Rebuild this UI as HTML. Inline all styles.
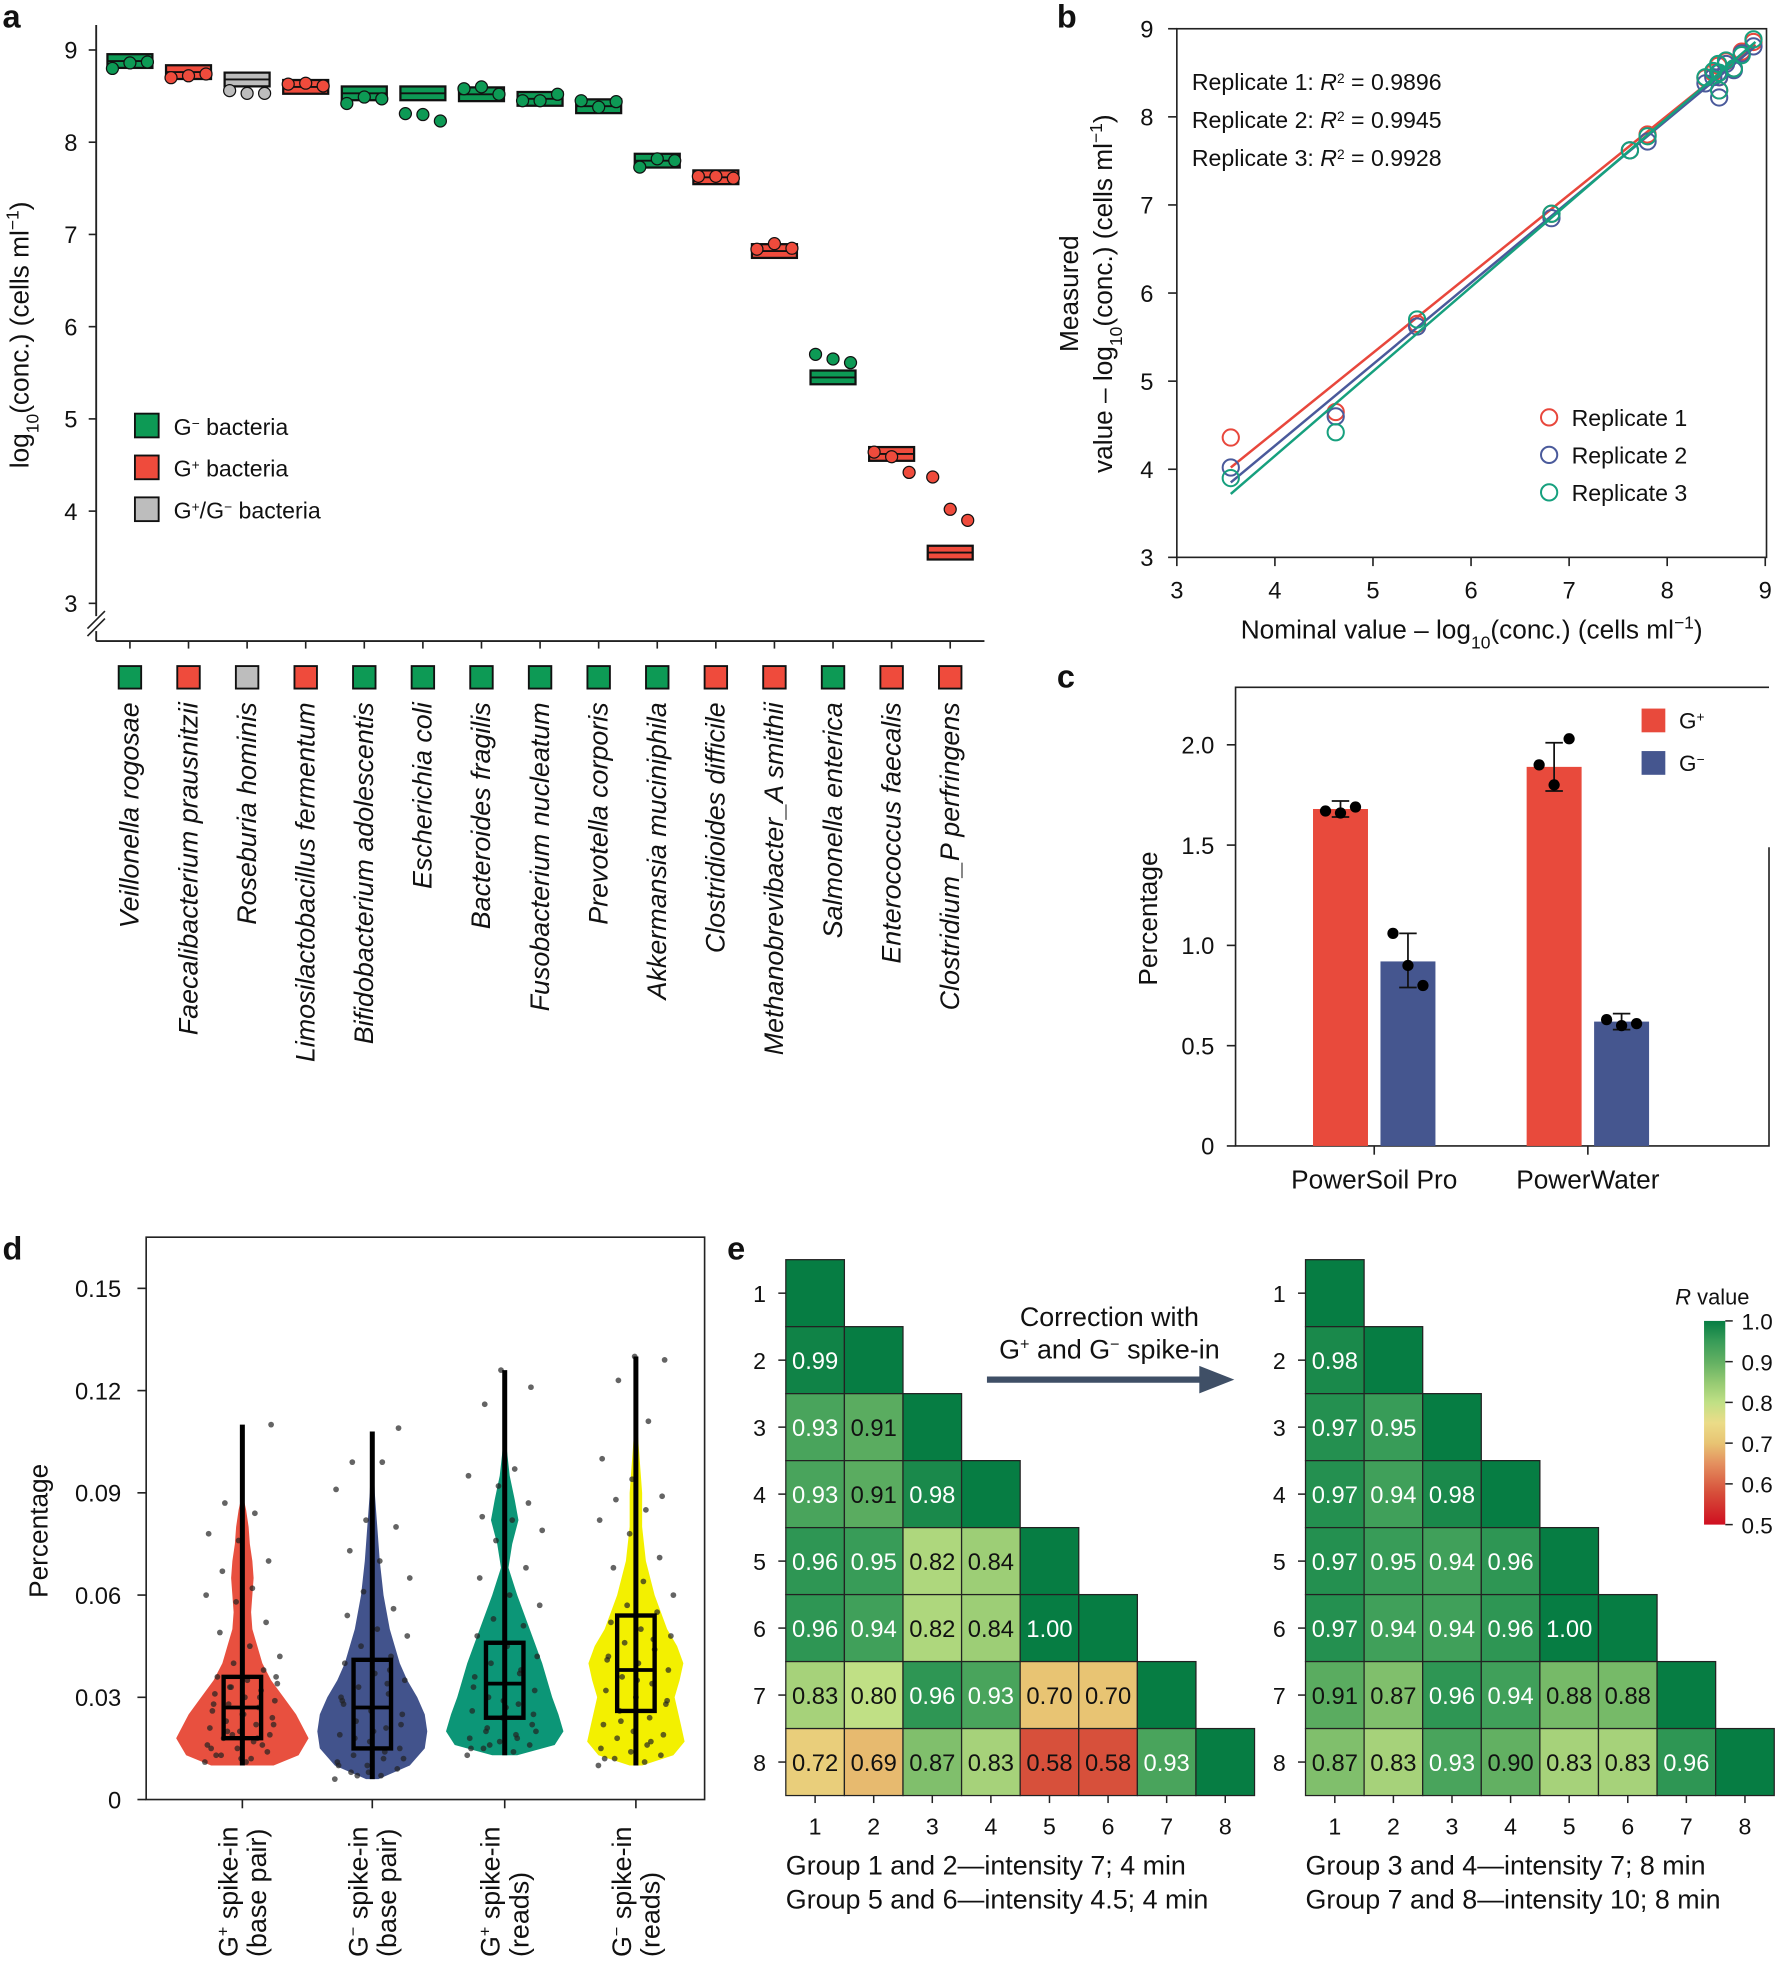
<!DOCTYPE html>
<html><head><meta charset="utf-8"><style>
html,body{margin:0;padding:0;background:#fff}
svg{display:block;font-family:"Liberation Sans",sans-serif}
</style></head><body>
<svg id="fig" width="1779" height="1962" viewBox="0 0 1424 1570" preserveAspectRatio="none" xmlns="http://www.w3.org/2000/svg"></svg>
<script>
// ---------- Panel a data ----------
const aNames=["Veillonella rogosae","Faecalibacterium prausnitzii","Roseburia hominis","Limosilactobacillus fermentum","Bifidobacterium adolescentis","Escherichia coli","Bacteroides fragilis","Fusobacterium nucleatum","Prevotella corporis","Akkermansia muciniphila","Clostridioides difficile","Methanobrevibacter_A smithii","Salmonella enterica","Enterococcus faecalis","Clostridium_P perfringens"];
const aTypes=["neg","pos","mix","pos","neg","neg","neg","neg","neg","neg","pos","pos","neg","pos","pos"];
const aNominal=[8.88,8.76,8.68,8.6,8.53,8.53,8.52,8.47,8.39,7.8,7.62,6.82,5.45,4.62,3.55];
const aRep1=[8.80,8.70,8.56,8.63,8.42,8.31,8.58,8.45,8.45,7.73,7.63,6.84,5.70,4.64,4.37];
const aRep2=[8.86,8.72,8.53,8.64,8.49,8.30,8.60,8.45,8.38,7.82,7.63,6.90,5.65,4.59,4.02];
const aRep3=[8.87,8.74,8.53,8.61,8.47,8.23,8.52,8.52,8.44,7.80,7.61,6.85,5.61,4.42,3.90];
const aTicks=[3,4,5,6,7,8,9];
// ---------- Panel b data ----------
const bNominal=[3.55,4.62,5.45,6.82,7.62,7.8,8.39,8.47,8.52,8.53,8.53,8.6,8.68,8.76,8.88];
const bR1=[4.36,4.65,5.65,6.90,7.62,7.80,8.44,8.50,8.58,8.30,8.45,8.63,8.55,8.74,8.85];
const bR2=[4.02,4.60,5.62,6.85,7.62,7.72,8.38,8.45,8.50,8.22,8.45,8.60,8.53,8.72,8.80];
const bR3=[3.90,4.42,5.70,6.90,7.62,7.78,8.45,8.52,8.60,8.30,8.50,8.64,8.55,8.70,8.88];
const bFitStart=[4.02,3.85,3.72];
const bFitEnd=[8.82,8.80,8.85];
const bR2text=["0.9896","0.9945","0.9928"];
// ---------- Panel c data ----------
const cKits=["PowerSoil Pro","PowerWater"];
const cPos=[1.68,1.89];
const cNeg=[0.92,0.62];
const cPosLo=[1.64,1.77],cPosHi=[1.72,2.01];
const cNegLo=[0.79,0.58],cNegHi=[1.06,0.66];
const cPosPts=[[1.67,1.66,1.69],[1.9,1.8,2.03]];
const cNegPts=[[1.06,0.9,0.8],[0.63,0.6,0.61]];
const cTicks=[0,0.5,1.0,1.5,2.0];
// ---------- Panel d data ----------
const dCats=[["G","+","spike-in","(base pair)"],["G","−","spike-in","(base pair)"],["G","+","spike-in","(reads)"],["G","−","spike-in","(reads)"]];
const dQ1=[0.018,0.015,0.024,0.026];
const dMed=[0.027,0.027,0.034,0.038];
const dQ3=[0.036,0.041,0.046,0.054];
const dMin=[0.010,0.006,0.013,0.010];
const dMax=[0.110,0.108,0.126,0.130];
const dLevels=[[0.010,0.013,0.018,0.025,0.030,0.035,0.040,0.045,0.050,0.055,0.060,0.065,0.070,0.075,0.080,0.085,0.090],
 [0.006,0.010,0.015,0.020,0.025,0.030,0.035,0.040,0.050,0.060,0.070,0.080,0.090,0.100,0.108],
 [0.013,0.016,0.020,0.025,0.030,0.040,0.050,0.060,0.068,0.075,0.082,0.088,0.095,0.105,0.126],
 [0.010,0.013,0.017,0.022,0.030,0.035,0.040,0.045,0.050,0.060,0.070,0.080,0.090,0.100,0.110,0.130]];
const dDensity=[[25,45,53,43,33,23,16,12,8,7,8,9,8,6,5,3,0],
 [5,30,42,44,42,36,28,22,14,9,6,4,2,1,0],
 [10,40,47,43,38,30,20,10,3,6,11,8,4,1,0],
 [5,30,39,36,31,35,38,33,25,15,8,5,5,3,1,0]];
const dPts=[[0.011,0.012,0.013,0.014,0.015,0.016,0.017,0.018,0.019,0.02,0.021,0.022,0.023,0.024,0.025,0.026,0.027,0.028,0.029,0.03,0.031,0.032,0.033,0.034,0.035,0.036,0.038,0.04,0.042,0.045,0.049,0.052,0.058,0.06,0.062,0.067,0.07,0.076,0.078,0.084,0.087,0.11,0.012,0.015,0.018,0.02,0.022,0.025,0.028,0.03,0.033,0.036,0.011,0.013,0.016,0.019],
 [0.006,0.007,0.008,0.009,0.01,0.011,0.012,0.013,0.015,0.017,0.019,0.021,0.023,0.025,0.027,0.029,0.031,0.033,0.035,0.037,0.04,0.042,0.045,0.048,0.05,0.054,0.056,0.061,0.065,0.07,0.073,0.08,0.082,0.091,0.099,0.099,0.109,0.008,0.01,0.014,0.018,0.022,0.026,0.03,0.034,0.007,0.012,0.02,0.028,0.038],
 [0.013,0.014,0.015,0.016,0.017,0.018,0.019,0.02,0.022,0.024,0.026,0.028,0.03,0.032,0.034,0.036,0.038,0.04,0.042,0.045,0.048,0.051,0.053,0.057,0.06,0.065,0.068,0.076,0.079,0.082,0.083,0.087,0.092,0.095,0.097,0.116,0.121,0.126,0.015,0.018,0.021,0.025,0.029,0.033,0.037,0.016,0.02,0.027],
 [0.01,0.011,0.012,0.013,0.014,0.015,0.016,0.018,0.019,0.02,0.022,0.024,0.026,0.028,0.03,0.032,0.034,0.036,0.038,0.04,0.042,0.044,0.046,0.048,0.05,0.052,0.055,0.057,0.06,0.064,0.068,0.071,0.078,0.082,0.085,0.088,0.089,0.094,0.1,0.111,0.123,0.129,0.13,0.012,0.017,0.023,0.029,0.035,0.041,0.047]];
const dTicks=[0,0.03,0.06,0.09,0.12,0.15];
const dTickLabels=["0","0.03","0.06","0.09","0.12","0.15"];
// ---------- Panel e data ----------
const eLeft=[[1],[0.99,1],[0.93,0.91,1],[0.93,0.91,0.98,1],[0.96,0.95,0.82,0.84,1],[0.96,0.94,0.82,0.84,1.00,1],[0.83,0.80,0.96,0.93,0.70,0.70,1],[0.72,0.69,0.87,0.83,0.58,0.58,0.93,1]];
const eRight=[[1],[0.98,1],[0.97,0.95,1],[0.97,0.94,0.98,1],[0.97,0.95,0.94,0.96,1],[0.97,0.94,0.94,0.96,1.00,1],[0.91,0.87,0.96,0.94,0.88,0.88,1],[0.87,0.83,0.93,0.90,0.83,0.83,0.96,1]];
const eBarTicks=["1.0","0.9","0.8","0.7","0.6","0.5"];

const NS="http://www.w3.org/2000/svg";
const svg=document.getElementById('fig');
function mk(parent,tag,attrs,name,inter){
  const e=document.createElementNS(NS,tag);
  for(const k in attrs) e.setAttribute(k,attrs[k]);
  
  
  parent.appendChild(e);return e;
}
function txt(parent,x,y,s,size,name,extra){
  const a=Object.assign({x:x,y:y,'font-size':size,fill:'#111'},extra||{});
  const t=mk(parent,'text',a,name);t.textContent=s;return t;
}
function sup(t,s,size){const ts=document.createElementNS(NS,'tspan');ts.setAttribute('baseline-shift','super');ts.setAttribute('font-size',size);ts.textContent=s;t.appendChild(ts);return ts;}
function sub(t,s,size){const ts=document.createElementNS(NS,'tspan');ts.setAttribute('baseline-shift','sub');ts.setAttribute('font-size',size);ts.textContent=s;t.appendChild(ts);return ts;}
function plain(t,s){const ts=document.createElementNS(NS,'tspan');ts.textContent=s;t.appendChild(ts);return ts;}
function panelLabel(x,y,s){txt(svg,x,y,s,26,'panel-label-'+s,{'font-weight':'bold'});}
const COL={neg:'#0d9a55',pos:'#ef4b3c',mix:'#bdbdbd'};

// ================= Panel a =================
panelLabel(2,22,'a');
const ga=mk(svg,'g',{},'panel-a');
const aY=v=>40+(9-v)*73.8;
const aX=i=>104+i*46.9;
mk(ga,'line',{x1:77,y1:20,x2:77,y2:493,stroke:'#222','stroke-width':1.5},'y-axis');
mk(ga,'line',{x1:77,y1:513,x2:788,y2:513,stroke:'#222','stroke-width':1.5},'x-axis');
mk(ga,'line',{x1:77,y1:505,x2:77,y2:513,stroke:'#222','stroke-width':1.5},'y-axis-stub');
mk(ga,'path',{d:'M70,503 L84,489 M70,509 L84,495',stroke:'#222','stroke-width':1.3,fill:'none'},'axis-break');
aTicks.forEach(v=>{
  mk(ga,'line',{x1:71,y1:aY(v),x2:77,y2:aY(v),stroke:'#222','stroke-width':1.3},'y-tick');
  txt(ga,62,aY(v)+7,String(v),19,'y-tick-label',{'text-anchor':'end'});
});
{const t=txt(ga,0,0,'',21,'y-axis-title',{transform:'translate(23,268) rotate(-90)','text-anchor':'middle'});
plain(t,'log');sub(t,'10',14);plain(t,'(conc.) (cells ml');sup(t,'−1',14);plain(t,')');}
aNames.forEach((n,i)=>{
  const x=aX(i),c=COL[aTypes[i]];
  mk(ga,'line',{x1:x,y1:513,x2:x,y2:519,stroke:'#222','stroke-width':1.3},'x-tick');
  const y=aY(aNominal[i]);
  mk(ga,'rect',{x:x-18,y:y-5.5,width:36,height:11,fill:c,stroke:'#111','stroke-width':1.8},'box-'+i);
  mk(ga,'line',{x1:x-18,y1:y,x2:x+18,y2:y,stroke:'#111','stroke-width':1.5},'box-median-'+i);
  [aRep1,aRep2,aRep3].forEach((r,k)=>{
    mk(ga,'circle',{cx:x-14+k*14,cy:aY(r[i]),r:4.8,fill:c,stroke:'#111','stroke-width':1},'replicate-dot');
  });
  mk(ga,'rect',{x:x-9,y:533,width:18,height:18,fill:c,stroke:'#111','stroke-width':1.5},'category-swatch-'+i);
  txt(ga,0,0,n,21.5,'category-label-'+i,{transform:`translate(${x+7},562) rotate(-90)`,'text-anchor':'end','font-style':'italic'});
});
[['neg','G','−'],['pos','G','+']].forEach((l,k)=>{
  mk(ga,'rect',{x:108,y:331+k*33.5,width:19,height:19,fill:COL[l[0]],stroke:'#111','stroke-width':1.5},'legend-swatch');
  const t=txt(ga,139,348+k*33.5,'',18.5,'legend-entry');plain(t,l[1]);sup(t,l[2],11);plain(t,' bacteria');
});
mk(ga,'rect',{x:108,y:398,width:19,height:19,fill:COL.mix,stroke:'#111','stroke-width':1.5},'legend-swatch');
{const t=txt(ga,139,415,'',18.5,'legend-entry');plain(t,'G');sup(t,'+',11);plain(t,'/G');sup(t,'−',11);plain(t,' bacteria');}

// ================= Panel b =================
panelLabel(846,22,'b');
const gb=mk(svg,'g',{},'panel-b');
const bX=v=>942+(v-3)*78.5, bY=v=>446-(v-3)*70.5;
mk(gb,'rect',{x:942,y:23,width:472,height:423,fill:'none',stroke:'#222','stroke-width':1.3},'plot-frame');
[3,4,5,6,7,8,9].forEach(v=>{
  mk(gb,'line',{x1:bX(v),y1:446,x2:bX(v),y2:453,stroke:'#222','stroke-width':1.3},'x-tick');
  txt(gb,bX(v),479,String(v),19,'x-tick-label',{'text-anchor':'middle'});
  mk(gb,'line',{x1:935,y1:bY(v),x2:942,y2:bY(v),stroke:'#222','stroke-width':1.3},'y-tick');
  txt(gb,918,bY(v)+7,String(v),19,'y-tick-label',{'text-anchor':'middle'});
});
const bCols=['#e8473c','#4a5a9b','#16a07e'];
[bR1,bR2,bR3].forEach((r,k)=>{
  mk(gb,'line',{x1:bX(3.55),y1:bY(bFitStart[k]),x2:bX(8.9),y2:bY(bFitEnd[k]),stroke:bCols[k],'stroke-width':2},'fit-line-'+(k+1));
  r.forEach((v,i)=>mk(gb,'circle',{cx:bX(bNominal[i]),cy:bY(v),r:6.5,fill:'none',stroke:bCols[k],'stroke-width':1.6},'replicate-'+(k+1)+'-point'));
  const t=txt(gb,954,72+k*30.5,'',18.5,'r2-annotation-'+(k+1));
  plain(t,'Replicate '+(k+1)+': ');const it=plain(t,'R');it.setAttribute('font-style','italic');sup(t,'2',11);plain(t,' = '+bR2text[k]);
  mk(gb,'circle',{cx:1240,cy:334+k*30,r:6.5,fill:'none',stroke:bCols[k],'stroke-width':1.6},'legend-marker-'+(k+1));
  txt(gb,1258,341+k*30,'Replicate '+(k+1),18.5,'legend-entry-'+(k+1));
});
txt(gb,0,0,'Measured',21,'y-axis-title-line1',{transform:'translate(863,235) rotate(-90)','text-anchor':'middle'});
{const t=txt(gb,0,0,'',21,'y-axis-title-line2',{transform:'translate(890,235) rotate(-90)','text-anchor':'middle'});
plain(t,'value – log');sub(t,'10',14);plain(t,'(conc.) (cells ml');sup(t,'−1',14);plain(t,')');}
{const t=txt(gb,1178,511,'',21,'x-axis-title',{'text-anchor':'middle'});
plain(t,'Nominal value – log');sub(t,'10',14);plain(t,'(conc.) (cells ml');sup(t,'−1',14);plain(t,')');}

// ================= Panel c =================
panelLabel(846,550,'c');
const gc=mk(svg,'g',{},'panel-c');
const cY=v=>917-v*160.5;
mk(gc,'path',{d:'M1416,678 L1416,917 L989,917 L989,550 L1416,550',fill:'none',stroke:'#222','stroke-width':1.3},'plot-frame');
cTicks.forEach(v=>{
  mk(gc,'line',{x1:982,y1:cY(v),x2:989,y2:cY(v),stroke:'#222','stroke-width':1.3},'y-tick');
  txt(gc,972,cY(v)+7,v===0?'0':v.toFixed(1),19,'y-tick-label',{'text-anchor':'end'});
});
txt(gc,0,0,'Percentage',21,'y-axis-title',{transform:'translate(926,735) rotate(-90)','text-anchor':'middle'});
const cCenters=[1100,1271];
cKits.forEach((k,i)=>{
  const cx=cCenters[i];
  mk(gc,'line',{x1:cx,y1:917,x2:cx,y2:924,stroke:'#222','stroke-width':1.3},'x-tick');
  txt(gc,cx,951,k,21,'x-tick-label',{'text-anchor':'middle'});
  [[cPos,cPosLo,cPosHi,cPosPts,-27,'#e84a3c','pos'],[cNeg,cNegLo,cNegHi,cNegPts,27,'#45568f','neg']].forEach(s=>{
    const bx=cx+s[4];
    mk(gc,'rect',{x:bx-22,y:cY(s[0][i]),width:44,height:cY(0)-cY(s[0][i]),fill:s[5]},'bar-'+s[6]+'-'+i);
    mk(gc,'path',{d:`M${bx},${cY(s[1][i])} L${bx},${cY(s[2][i])} M${bx-7},${cY(s[2][i])} L${bx+7},${cY(s[2][i])} M${bx-7},${cY(s[1][i])} L${bx+7},${cY(s[1][i])}`,stroke:'#111','stroke-width':1.4,fill:'none'},'error-bar');
    s[3][i].forEach((v,j)=>mk(gc,'circle',{cx:bx-12+j*12,cy:cY(v),r:4.5,fill:'#000'},'replicate-dot'));
  });
});
mk(gc,'rect',{x:1314,y:567,width:19,height:19,fill:'#e84a3c'},'legend-swatch-pos');
{const t=txt(gc,1344,583,'',18,'legend-entry-pos');plain(t,'G');sup(t,'+',11);}
mk(gc,'rect',{x:1314,y:601,width:19,height:19,fill:'#45568f'},'legend-swatch-neg');
{const t=txt(gc,1344,617,'',18,'legend-entry-neg');plain(t,'G');sup(t,'−',11);}

// ================= Panel d =================
panelLabel(2,1008,'d');
const gd=mk(svg,'g',{},'panel-d');
const dY=v=>1440-v*2727;
const dX=[194,298,404,509];
const dFill=['#e8503f','#42538c','#0c9677','#f3f000'];
mk(gd,'rect',{x:117,y:990,width:447,height:450,fill:'none',stroke:'#222','stroke-width':1.3},'plot-frame');
dTicks.forEach((v,i)=>{
  mk(gd,'line',{x1:110,y1:dY(v),x2:117,y2:dY(v),stroke:'#222','stroke-width':1.3},'y-tick');
  txt(gd,97,dY(v)+7,dTickLabels[i],19,'y-tick-label',{'text-anchor':'end'});
});
txt(gd,0,0,'Percentage',21,'y-axis-title',{transform:'translate(38,1225) rotate(-90)','text-anchor':'middle'});
dCats.forEach((c,i)=>{
  const x=dX[i],L=dLevels[i],W=dDensity[i];
  let d='M'+x+','+dY(L[0]);
  L.forEach((v,j)=>d+=' L'+(x+W[j])+','+dY(v));
  for(let j=L.length-1;j>=0;j--) d+=' L'+(x-W[j])+','+dY(L[j]);
  mk(gd,'path',{d:d+'Z',fill:dFill[i],'stroke-linejoin':'round'},'violin-'+i);
  dPts[i].forEach((v,j)=>{
    const off=((j*37)%61)-30;
    mk(gd,'circle',{cx:x+off,cy:dY(v),r:2.3,fill:'#222','fill-opacity':0.7},'sample-point');
  });
  mk(gd,'line',{x1:x,y1:dY(dMin[i]),x2:x,y2:dY(dMax[i]),stroke:'#000','stroke-width':4},'whisker-'+i);
  mk(gd,'rect',{x:x-15,y:dY(dQ3[i]),width:30,height:dY(dQ1[i])-dY(dQ3[i]),fill:'none',stroke:'#000','stroke-width':3.5},'box-'+i);
  mk(gd,'line',{x1:x-15,y1:dY(dMed[i]),x2:x+15,y2:dY(dMed[i]),stroke:'#000','stroke-width':3},'median-'+i);
  mk(gd,'line',{x1:x,y1:1440,x2:x,y2:1447,stroke:'#222','stroke-width':1.3},'x-tick');
  const t1=txt(gd,0,0,'',21.5,'x-tick-label-'+i,{transform:`translate(${x-4},1566) rotate(-90)`});
  plain(t1,c[0]);sup(t1,c[1],13);plain(t1,' '+c[2]);
  txt(gd,0,0,c[3],21.5,'x-tick-label-line2-'+i,{transform:`translate(${x+19},1566) rotate(-90)`});
});

// ================= Panel e =================
panelLabel(582,1008,'e');
const ge=mk(svg,'g',{},'panel-e');
const stopsV=[0.5,0.58,0.65,0.70,0.75,0.80,0.85,0.90,0.95,1.0];
const stopsC=['#cf0f20','#d7503b','#e4905f','#e8c473','#ebdc88','#c0e085','#94c972','#62b062','#389c58','#067d43'];
function hex(h){return [1,3,5].map(i=>parseInt(h.substr(i,2),16));}
function cmap(v){
  v=Math.max(0.5,Math.min(1,v));
  for(let i=0;i<stopsV.length-1;i++){ if(v<=stopsV[i+1]){const t=(v-stopsV[i])/(stopsV[i+1]-stopsV[i]);const a=hex(stopsC[i]),b=hex(stopsC[i+1]);return 'rgb('+a.map((c,k)=>Math.round(c+(b[k]-c)*t)).join(',')+')';}}
  return stopsC[stopsC.length-1];
}
const cw=46.9,ch=53.6,top0=1008;
function heat(M,x0,name){
  const g=mk(ge,'g',{},name);
  M.forEach((row,r)=>{
    const y=top0+r*ch;
    mk(g,'line',{x1:x0-6,y1:y+ch/2,x2:x0,y2:y+ch/2,stroke:'#222','stroke-width':1.2},'row-tick');
    txt(g,x0-21,y+ch/2+7,String(r+1),18.5,'row-label',{'text-anchor':'middle'});
    row.forEach((v,c)=>{
      const x=x0+c*cw;
      const diag=c===r;
      mk(g,'rect',{x:x,y:y,width:cw,height:ch,fill:diag?'#067d43':cmap(v),stroke:'#222','stroke-width':1},'heat-cell');
      if(!diag) txt(g,x+cw/2,y+ch/2+7,v.toFixed(2),19,'cell-value',{'text-anchor':'middle',fill:v>=0.925?'#fff':'#111'});
    });
  });
  for(let c=0;c<8;c++){
    const x=x0+c*cw+cw/2;
    mk(g,'line',{x1:x,y1:top0+8*ch,x2:x,y2:top0+8*ch+6,stroke:'#222','stroke-width':1.2},'col-tick');
    txt(g,x,top0+8*ch+31,String(c+1),18.5,'col-label',{'text-anchor':'middle'});
  }
}
heat(eLeft,629,'heatmap-before');
heat(eRight,1045,'heatmap-after');
txt(ge,629,1500,'Group 1 and 2—intensity 7; 4 min',21.5,'caption-left-1');
txt(ge,629,1527,'Group 5 and 6—intensity 4.5; 4 min',21.5,'caption-left-2');
txt(ge,1045,1500,'Group 3 and 4—intensity 7; 8 min',21.5,'caption-right-1');
txt(ge,1045,1527,'Group 7 and 8—intensity 10; 8 min',21.5,'caption-right-2');
txt(ge,888,1061,'Correction with',21.5,'arrow-caption-1',{'text-anchor':'middle'});
{const t=txt(ge,888,1087,'',21.5,'arrow-caption-2',{'text-anchor':'middle'});plain(t,'G');sup(t,'+',13);plain(t,' and G');sup(t,'−',13);plain(t,' spike-in');}
mk(ge,'path',{d:'M790,1104 L962,1104',stroke:'#3f4f66','stroke-width':5},'correction-arrow-shaft');
mk(ge,'path',{d:'M960,1093 L988,1104 L960,1115 Z',fill:'#3f4f66'},'correction-arrow-head');
// colorbar
const defs=mk(svg,'defs',{},'defs');
const lg=mk(defs,'linearGradient',{id:'cb',x1:0,y1:1,x2:0,y2:0},'colorbar-gradient');
stopsV.forEach((v,i)=>mk(lg,'stop',{offset:((v-0.5)/0.5).toFixed(3),'stop-color':stopsC[i]},'gradient-stop'));
mk(ge,'rect',{x:1364,y:1057,width:17,height:163,fill:'url(#cb)'},'colorbar');
eBarTicks.forEach((s,i)=>{
  const y=1057+i*163/5;
  mk(ge,'line',{x1:1381,y1:y,x2:1387,y2:y,stroke:'#222','stroke-width':1.2},'colorbar-tick');
  txt(ge,1394,y+7,s,18,'colorbar-label',{});
});
{const t=txt(ge,1341,1044,'',17.5,'colorbar-title');const it=plain(t,'R');it.setAttribute('font-style','italic');plain(t,' value');}
</script>
</body></html>
